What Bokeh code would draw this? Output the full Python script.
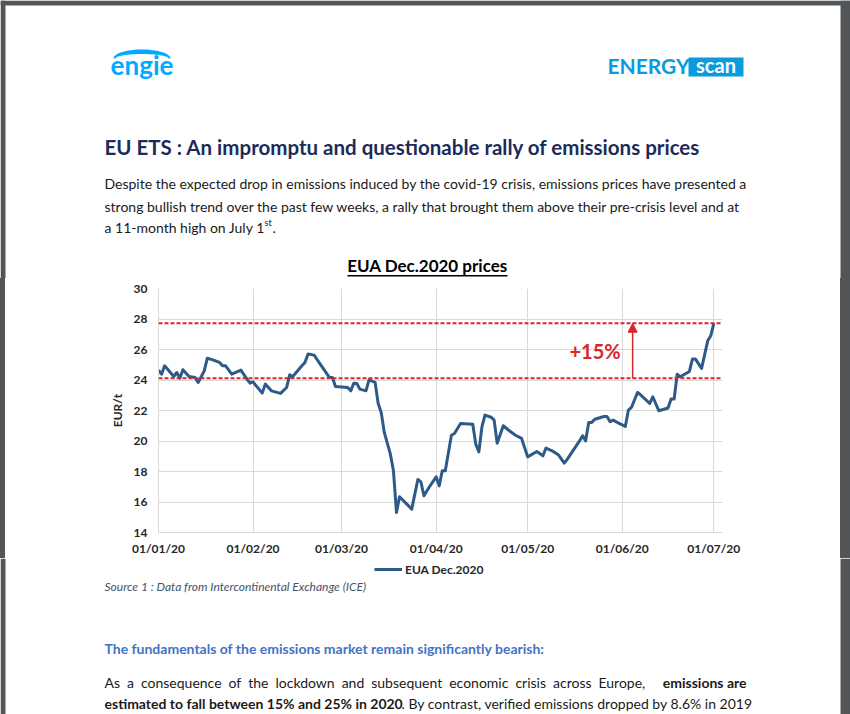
import datetime as dt
import numpy as np
from bokeh.plotting import figure
from bokeh.layouts import column, row
from bokeh.models import (Label, Span, Arrow, NormalHead, FixedTicker,
                          DatetimeTickFormatter, Legend, LegendItem,
                          Range1d, ColumnDataSource)
from bokeh.embed import file_html
from bokeh.resources import INLINE

# ---- data: EUA Dec.2020 futures, EUR/t ----
trade_dates = [
    "2020-01-01", "2020-01-02", "2020-01-03", "2020-01-04", "2020-01-06", "2020-01-07",
    "2020-01-08", "2020-01-09", "2020-01-11", "2020-01-13", "2020-01-14", "2020-01-16",
    "2020-01-17", "2020-01-19", "2020-01-21", "2020-01-22", "2020-01-23", "2020-01-25",
    "2020-01-28", "2020-01-30", "2020-01-31", "2020-02-01", "2020-02-02", "2020-02-04",
    "2020-02-05", "2020-02-07", "2020-02-10", "2020-02-12", "2020-02-13", "2020-02-14",
    "2020-02-17", "2020-02-18", "2020-02-19", "2020-02-21", "2020-02-23", "2020-02-26",
    "2020-02-27", "2020-02-28", "2020-03-03", "2020-03-04", "2020-03-05", "2020-03-06",
    "2020-03-07", "2020-03-09", "2020-03-10", "2020-03-12", "2020-03-13", "2020-03-14",
    "2020-03-15", "2020-03-17", "2020-03-18", "2020-03-19", "2020-03-20", "2020-03-24",
    "2020-03-26", "2020-03-27", "2020-03-28", "2020-03-30", "2020-04-01", "2020-04-02",
    "2020-04-03", "2020-04-04", "2020-04-06", "2020-04-07", "2020-04-09", "2020-04-13",
    "2020-04-14", "2020-04-15", "2020-04-16", "2020-04-17", "2020-04-19", "2020-04-20",
    "2020-04-21", "2020-04-23", "2020-04-25", "2020-04-27", "2020-04-29", "2020-05-01",
    "2020-05-04", "2020-05-06", "2020-05-07", "2020-05-09", "2020-05-11", "2020-05-13",
    "2020-05-14", "2020-05-18", "2020-05-19", "2020-05-20", "2020-05-21", "2020-05-22",
    "2020-05-23", "2020-05-26", "2020-05-27", "2020-05-28", "2020-05-29", "2020-05-31",
    "2020-06-02", "2020-06-03", "2020-06-04", "2020-06-06", "2020-06-07", "2020-06-10",
    "2020-06-11", "2020-06-13", "2020-06-16", "2020-06-17", "2020-06-18", "2020-06-19",
    "2020-06-20", "2020-06-23", "2020-06-24", "2020-06-25", "2020-06-27", "2020-06-29",
    "2020-06-30", "2020-07-01",
]
eua_dec20 = [
    24.65, 24.38, 24.93, 24.71, 24.23, 24.49,
    24.12, 24.67, 24.23, 24.17, 23.84, 24.60,
    25.43, 25.30, 25.15, 24.93, 24.93, 24.38,
    24.65, 24.06, 23.79, 23.88, 23.62, 23.14,
    23.73, 23.29, 23.12, 23.51, 24.34, 24.23,
    24.93, 25.15, 25.70, 25.63, 25.04, 24.17,
    24.17, 23.58, 23.51, 23.29, 23.79, 23.77,
    23.40, 23.29, 24.01, 23.84, 22.46, 21.87,
    20.56, 19.14, 18.05, 15.31, 16.34, 15.53,
    17.48, 17.32, 16.41, 17.06, 17.65, 17.06,
    18.05, 18.05, 20.38, 20.49, 21.15, 21.10,
    19.79, 19.29, 20.93, 21.70, 21.56, 21.37,
    19.86, 21.00, 20.67, 20.38, 20.17, 18.96,
    19.31, 19.03, 19.53, 19.36, 19.10, 18.55,
    18.81, 20.01, 20.34, 20.01, 21.22, 21.22,
    21.43, 21.61, 21.60, 21.26, 21.37, 21.15,
    20.95, 22.02, 22.20, 23.18, 23.03, 22.46,
    22.90, 21.98, 22.16, 22.75, 22.75, 24.38,
    24.21, 24.56, 25.37, 25.37, 24.76, 26.57,
    26.90, 27.72,
]
month_ticks = ["2020-01-01", "2020-02-01", "2020-03-01", "2020-04-01",
               "2020-05-01", "2020-06-01", "2020-07-01"]
price_ticks = [14, 16, 18, 20, 22, 24, 26, 28, 30]
pre_crisis_level = 24.12   # pre-crisis price level
july_level = 27.72         # price on 1 July
series_name = "EUA Dec.2020"

DAY_MS = 86400000.0


def to_ms(s):
    return dt.datetime.fromisoformat(s).replace(tzinfo=dt.timezone.utc).timestamp() * 1000.0


# ---- styling ----
LINE_BLUE = "#2E5A88"
RED = "#D9262B"
GRID = "#D9D9D9"
PAGE_EDGE = "#525659"
TEXT = "#1A1A1A"
FONT = "Lato"
BODY = 14

W, H = 850, 714
EDGE_L, EDGE_R, EDGE_T = 5, 10, 5
HEAD_H = 278          # page strip above the chart
CHART_H = 280         # chart strip
FOOT_H = H - HEAD_H - CHART_H
FRAME_L, FRAME_R, FRAME_T, FRAME_B = 158, 722, 288, 532   # plot area on the page


def page_strip(y_top, height):
    """A figure whose data coordinates are page pixels (y grows downward)."""
    f = figure(width=W, height=height, x_range=Range1d(0, W),
               y_range=Range1d(y_top + height, y_top),
               toolbar_location=None, output_backend="svg", min_border=0,
               x_axis_location=None, y_axis_location=None)
    f.outline_line_color = None
    f.grid.visible = False
    f.background_fill_color = "white"
    f.border_fill_color = "white"
    f.quad(left=[0, W - EDGE_R], right=[EDGE_L, W], top=[y_top, y_top],
           bottom=[y_top + height, y_top + height], fill_color=PAGE_EDGE,
           line_color=None)
    return f


def put(fig, text, x, y, size, color=TEXT, style="normal", align="left"):
    fig.add_layout(Label(x=x, y=y, text=text, text_font=FONT,
                         text_font_size=f"{size}px", text_font_style=style,
                         text_color=color, text_align=align,
                         text_baseline="middle"))


# ================= header strip =================
head = page_strip(0, HEAD_H)
head.quad(left=[0], right=[W], top=[0], bottom=[EDGE_T], fill_color=PAGE_EDGE,
          line_color=None)

# logos
LOGO_BLUE = "#00AAFF"
t = np.linspace(0, np.pi, 30)
arc_x = np.concatenate([141.5 - 28.5 * np.cos(t), 141.5 + 26.5 * np.cos(t)])
arc_y = np.concatenate([58 - 9 * np.sin(t), 58 - 4.5 * np.sin(t)])
head.patch(arc_x, arc_y, fill_color=LOGO_BLUE, line_color=None)
put(head, "engie", 141.5, 64, 26, LOGO_BLUE, "bold", "center")

SCAN_BLUE = "#0A9BDE"
put(head, "ENERGY", 607, 65, 21, SCAN_BLUE, "bold")
head.quad(left=[688], right=[743], top=[57], bottom=[76], fill_color=SCAN_BLUE,
          line_color=None)
put(head, "scan", 715.5, 64.5, 20, "white", "bold", "center")

# headline and intro
put(head, "EU ETS : An impromptu and questionable rally of emissions prices",
    104, 146, 20.5, "#1C2B5A", "bold")
put(head, "Despite the expected drop in emissions induced by the covid-19 crisis, "
    "emissions prices have presented a", 104, 183, BODY)
put(head, "strong bullish trend over the past few weeks, a rally that brought them "
    "above their pre-crisis level and at", 104, 206, BODY)
put(head, "a 11-month high on July 1", 104, 227, BODY)
put(head, "st", 264, 222, 9)
put(head, ".", 272, 227, BODY)

# chart title with underline
put(head, "EUA Dec.2020 prices", 427, 265, 17, "#000000", "bold", "center")
head.quad(left=[347], right=[507], top=[274.5], bottom=[276],
          fill_color="#000000", line_color=None)

# ================= chart strip =================
x_start = to_ms(month_ticks[0])
x_end = x_start + 184.85 * DAY_MS

p = figure(width=W, height=CHART_H, x_axis_type="datetime",
           x_range=Range1d(x_start, x_end),
           y_range=Range1d(price_ticks[0], price_ticks[-1]),
           toolbar_location=None, output_backend="svg",
           min_border_left=FRAME_L, min_border_right=W - FRAME_R,
           min_border_top=FRAME_T - HEAD_H,
           min_border_bottom=HEAD_H + CHART_H - FRAME_B)
p.outline_line_color = None
p.background_fill_color = "white"
# transparent margins so the page edges (drawn by CSS) show through
p.border_fill_alpha = 0
p.styles = {"background-color": "white",
            "box-shadow": f"inset {EDGE_L}px 0 0 0 {PAGE_EDGE}, "
                          f"inset -{EDGE_R}px 0 0 0 {PAGE_EDGE}"}

src = ColumnDataSource(dict(date=np.array(trade_dates, dtype="datetime64[ms]"),
                            price=eua_dec20))
p.line("date", "price", source=src, line_color=LINE_BLUE, line_width=3,
       line_join="round")

p.xaxis.ticker = FixedTicker(ticks=[to_ms(m) for m in month_ticks])
p.xaxis.formatter = DatetimeTickFormatter(days="%d/%m/%y", months="%d/%m/%y",
                                          years="%d/%m/%y")
p.yaxis.ticker = FixedTicker(ticks=price_ticks)
p.yaxis.axis_label = "EUR/t"
for ax in (p.xaxis[0], p.yaxis[0]):
    ax.axis_line_color = GRID
    ax.major_tick_line_color = None
    ax.minor_tick_line_color = None
    ax.major_tick_out = 0
    ax.major_tick_in = 0
    ax.minor_tick_out = 0
    ax.major_label_text_font = FONT
    ax.major_label_text_font_style = "bold"
    ax.major_label_text_font_size = "12px"
    ax.major_label_text_color = "#262626"
p.xaxis.major_label_standoff = 8
p.yaxis.major_label_standoff = 11
p.yaxis.axis_label_text_font = FONT
p.yaxis.axis_label_text_font_style = "bold"
p.yaxis.axis_label_text_font_size = "12px"
p.yaxis.axis_label_text_color = "#262626"
p.yaxis.axis_label_standoff = 6
p.xgrid.grid_line_color = GRID
p.ygrid.grid_line_color = GRID

# reference levels and the rally arrow
for lvl in (pre_crisis_level, july_level):
    p.add_layout(Span(location=lvl, dimension="width", line_color=RED,
                      line_width=2, line_dash="4 2"))
arrow_x = to_ms("2020-06-04") + 0.4 * DAY_MS
p.add_layout(Arrow(end=NormalHead(size=9, fill_color=RED, line_color=RED),
                   x_start=arrow_x, y_start=pre_crisis_level,
                   x_end=arrow_x, y_end=july_level,
                   line_color=RED, line_width=1.5))
rally_pct = round((july_level / pre_crisis_level - 1) * 100)
p.add_layout(Label(x=to_ms("2020-05-23") + 0.1 * DAY_MS,
                   y=(pre_crisis_level + july_level) / 2,
                   text=f"+{rally_pct}%", text_align="center",
                   text_baseline="middle", text_color=RED,
                   text_font=FONT, text_font_style="bold",
                   text_font_size="20px"))

# ================= footer strip =================
y0 = HEAD_H + CHART_H
foot = page_strip(y0, FOOT_H)

# legend key for the series, set under the date axis (the series itself lies
# outside this strip's page-pixel ranges, so only its legend entry shows)
key = foot.line("date", "price", source=src, line_color=LINE_BLUE, line_width=3)
foot.add_layout(Legend(items=[LegendItem(label=series_name, renderers=[key])],
                       location=(374, H - 557 - 20), orientation="horizontal",
                       glyph_width=28, glyph_height=16, label_standoff=3,
                       padding=0, margin=0, border_line_color=None,
                       background_fill_alpha=0, label_text_font=FONT,
                       label_text_font_style="bold",
                       label_text_font_size="12px",
                       label_text_color="#262626"))

put(foot, "Source 1 : Data from Intercontinental Exchange (ICE)", 104, 586, 12,
    "#44546A", "italic")
put(foot, "The fundamentals of the emissions market remain significantly bearish:",
    104, 648, BODY, "#4472C4", "bold")
put(foot, "As\u2002a\u2002consequence\u2002of\u2002the\u2002lockdown\u2002and\u2002"
    "subsequent\u2002economic\u2002crisis\u2002across\u2002Europe,", 104, 682, BODY)
put(foot, "emissions are", 746, 682, BODY, TEXT, "bold", "right")
put(foot, "estimated to fall between 15% and 25% in 2020", 104, 703, BODY,
    TEXT, "bold")
put(foot, ". By contrast, verified emissions dropped by 8.6% in 2019", 401, 703,
    BODY, TEXT, "normal", "left")

page = column(head, row(p), foot)
open("out.html", "w").write(file_html(page, INLINE))
